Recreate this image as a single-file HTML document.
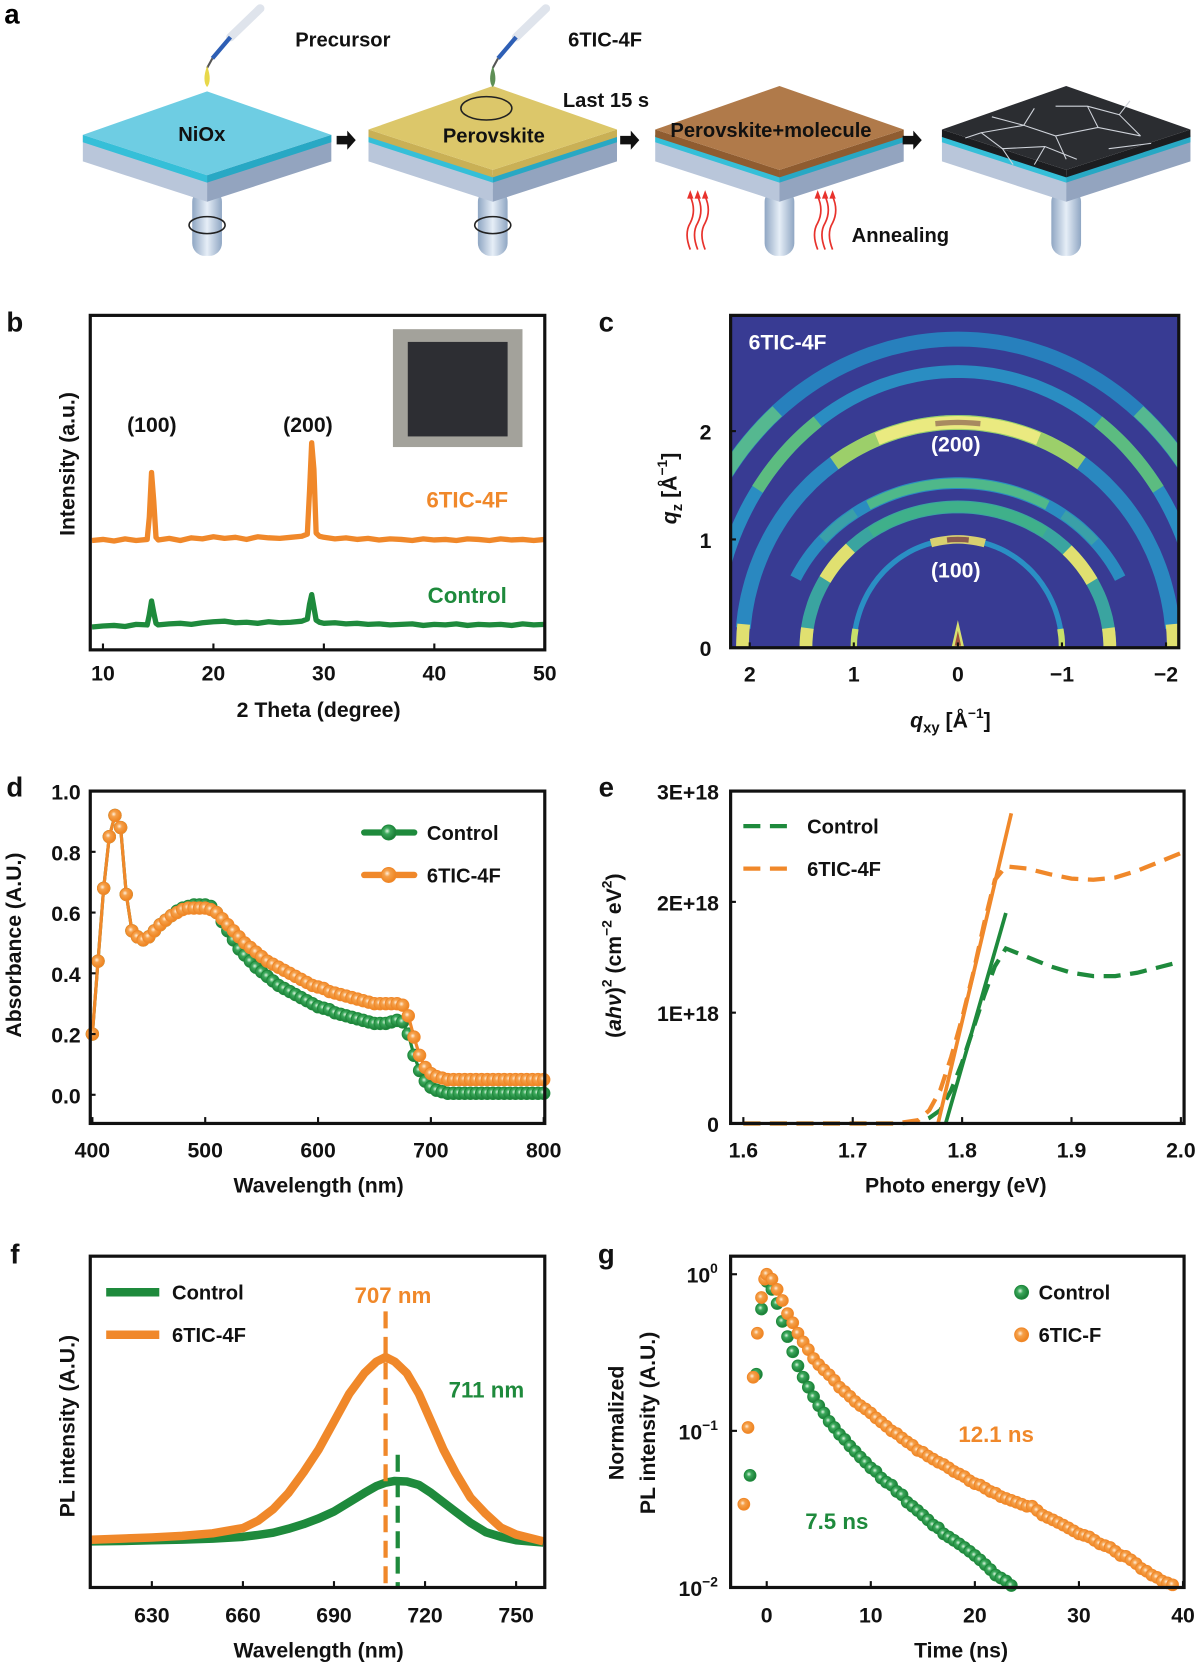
<!DOCTYPE html>
<html><head><meta charset="utf-8"><style>
html,body{margin:0;padding:0;background:#fff;}
svg{display:block;font-family:"Liberation Sans",Arial,sans-serif;font-weight:bold;}
</style></head><body>
<svg id="fig" width="1200" height="1665" viewBox="0 0 1130 1568" preserveAspectRatio="none" xmlns="http://www.w3.org/2000/svg">
<defs>
<radialGradient id="gG" cx="0.4" cy="0.4" r="0.6"><stop offset="0" stop-color="#dff5e2"/><stop offset="0.35" stop-color="#3aa85a"/><stop offset="1" stop-color="#1a7a36"/></radialGradient>
<radialGradient id="gO" cx="0.4" cy="0.4" r="0.6"><stop offset="0" stop-color="#fff0dd"/><stop offset="0.35" stop-color="#f5a04a"/><stop offset="1" stop-color="#ee8420"/></radialGradient>
<linearGradient id="stem" x1="0" x2="1"><stop offset="0" stop-color="#8fa6c3"/><stop offset="0.5" stop-color="#e6eef7"/><stop offset="1" stop-color="#8fa6c3"/></linearGradient>
<clipPath id="clipC"><rect x="688" y="297" width="422" height="313"/></clipPath>
</defs>

<g id="panelA"></g>
<text x="4" y="22" font-size="26">a</text>

<g id="panelB"></g>
<g id="panelC"></g>
<g id="panelD"></g>
<g id="panelE"></g>
<g id="panelF"></g>
<g id="panelG"></g>
</svg>
<script>
// ---------------- Data ----------------
const xrdAngles = [9,10,11,12,13,14,14.2,14.4,14.6,14.8,15,16,17,18,19,20,21,22,23,24,25,26,27,28,28.5,28.7,28.9,29.1,29.3,29.6,30,31,32,33,34,35,36,37,38,39,40,41,42,43,44,45,46,47,48,49,50];
const xrd6TIC = [1030,1040,1025,1045,1030,1040,1250,1670,1400,1060,1035,1050,1030,1055,1045,1065,1050,1060,1040,1065,1055,1050,1060,1070,1090,1500,1950,1700,1100,1070,1060,1045,1055,1040,1050,1035,1045,1040,1030,1045,1035,1040,1030,1045,1040,1030,1045,1035,1040,1030,1040];
const xrdControl = [215,225,230,220,240,235,330,460,350,250,235,245,250,240,255,265,270,255,260,250,265,255,260,270,290,430,520,400,280,260,250,255,245,250,240,245,235,240,245,230,240,235,245,230,240,235,240,230,245,235,240];
const xrdTicks = [10,20,30,40,50];
const absWl = []; for (let w=400; w<=800; w+=5) absWl.push(w);
const abs6TIC = [.20,.44,.68,.85,.92,.88,.66,.54,.52,.51,.52,.54,.56,.575,.59,.60,.61,.615,.615,.615,.615,.61,.60,.58,.56,.54,.52,.50,.485,.47,.455,.44,.43,.42,.41,.40,.39,.38,.37,.36,.355,.35,.34,.335,.33,.325,.32,.315,.31,.305,.30,.30,.30,.30,.30,.295,.26,.19,.13,.09,.07,.06,.055,.05,.05,.05,.05,.05,.05,.05,.05,.05,.05,.05,.05,.05,.05,.05,.05,.05,.05];
const absControl = [.20,.44,.68,.85,.92,.88,.66,.54,.52,.51,.52,.54,.56,.575,.59,.605,.615,.62,.625,.625,.625,.62,.60,.57,.54,.51,.48,.46,.44,.42,.405,.39,.375,.36,.35,.34,.33,.32,.31,.30,.29,.285,.28,.27,.265,.26,.255,.25,.245,.24,.235,.235,.235,.24,.245,.24,.20,.13,.08,.045,.025,.015,.01,.005,.005,.005,.005,.005,.005,.005,.005,.005,.005,.005,.005,.005,.005,.005,.005,.005,.005];
const absXTicks = [400,500,600,700,800];
const absYTicks = [0,0.2,0.4,0.6,0.8,1.0];
const absYLabels = ["0.0","0.2","0.4","0.6","0.8","1.0"];
const taucE = [1.60,1.65,1.70,1.74,1.76,1.77,1.78,1.79,1.80,1.81,1.82,1.83,1.84,1.86,1.88,1.90,1.92,1.94,1.96,1.98,2.00];
const taucControl = [0,0,0,0,0.01,0.05,0.12,0.3,0.55,0.85,1.15,1.42,1.58,1.5,1.42,1.36,1.33,1.33,1.36,1.41,1.46];
const tauc6TIC = [0,0,0,0,0.03,0.12,0.3,0.6,0.95,1.35,1.8,2.2,2.32,2.3,2.25,2.21,2.2,2.22,2.28,2.36,2.44];
const fitControlE = [1.785,1.84], fitControlV = [0,1.9];
const fit6TICE = [1.778,1.845], fit6TICV = [0,2.8];
const taucXTicks = [1.6,1.7,1.8,1.9,2.0];
const taucYTicks = [0,1,2,3];
const taucYLabels = ["0","1E+18","2E+18","3E+18"];
const plWl = [610,620,630,640,650,660,665,670,675,680,685,690,695,700,704,707,710,714,718,722,726,730,735,740,745,750,759];
const pl6TIC = [0.207,0.212,0.217,0.224,0.235,0.258,0.29,0.34,0.41,0.5,0.6,0.72,0.84,0.93,0.98,1.0,0.98,0.93,0.84,0.72,0.6,0.5,0.39,0.32,0.26,0.23,0.2];
const plControl = [0.2,0.202,0.205,0.208,0.212,0.22,0.228,0.238,0.255,0.275,0.3,0.33,0.37,0.41,0.44,0.455,0.462,0.46,0.445,0.41,0.37,0.33,0.28,0.24,0.22,0.205,0.195];
const plPeak6TIC = 707, plPeakControl = 711;
const plXTicks = [630,660,690,720,750];
// g: TRPL (rise points then decay every 0.5 ns)
const trplRiseT6TIC = [-2.2,-1.8,-1.3,-0.9,-0.5,-0.2];
const trplRise6TIC = [0.034,0.105,0.22,0.42,0.71,0.93];
const trplDecay6TIC = [1.0,.93,.8,.68,.56,.49,.42,.37,.33,.29,.265,.245,.228,.21,.19,.178,.166,.154,.145,.138,.13,.121,.114,.107,.1,.096,.09,.085,.081,.075,.073,.069,.066,.063,.061,.058,.055,.053,.051,.048,.046,.045,.043,.041,.04,.038,.037,.036,.035,.034,.033,.033,.031,.029,.028,.027,.026,.025,.024,.023,.022,.0215,.021,.02,.019,.0185,.018,.017,.016,.0158,.015,.0142,.0132,.0127,.012,.0116,.011,.0107,.0104];
const trplRiseTControl = [-1.6,-1.0,-0.5];
const trplRiseControl = [0.052,0.23,0.6];
const trplDecayControl = [.9,.8,.65,.5,.4,.32,.26,.22,.19,.165,.145,.13,.115,.105,.095,.088,.08,.074,.068,.063,.058,.055,.05,.047,.045,.041,.039,.035,.033,.031,.029,.027,.025,.024,.022,.021,.02,.019,.018,.017,.016,.015,.014,.013,.012,.0115,.011,.0103];
const trplXTicks = [0,10,20,30,40];
// c: ring radii (x radius, z radius in Å^-1)
const ringRx = [1.0,1.46,1.72,2.07,2.35,2.7];
const ringRz = [1.0,1.3,1.52,2.08,2.55,2.85];

// ---------------- Helpers ----------------
const NS = "http://www.w3.org/2000/svg";
function mk(parent, tag, attrs, text){
  const el = document.createElementNS(NS, tag);
  for (const k in attrs) el.setAttribute(k, attrs[k]);
  if (text !== undefined) el.textContent = text;
  parent.appendChild(el); return el;
}
function lin(d0,d1,r0,r1){ return v => r0 + (v-d0)*(r1-r0)/(d1-d0); }
const GREEN="#1e8a3c", ORANGE="#f0882a";
function frame(g, x, y, w, h){
  const r = mk(g,'rect',{x:x,y:y,width:w,height:h,fill:'none',stroke:'#111','stroke-width':3});
  
  
}
function txt(g, x, y, s, opts){
  return mk(g,'text',Object.assign({x:x,y:y,'font-size':20,'text-anchor':'middle',fill:'#111'},opts||{}), s);
}
function polyPath(xs, ys, sx, sy){
  return xs.map((v,i)=>(i?'L':'M')+sx(v).toFixed(1)+','+sy(ys[i]).toFixed(1)).join(' ');
}

// ---------------- Panel a ----------------
(function(){
  const g = document.getElementById('panelA');
  const centers = [195,464,734,1004];
  const tops = ['#6ecde3','#dcc76a','#b07a4a','#2b2d31'];
  const sides = ['#56b8d2','#c9b055','#8f5c30','#1c1d20'];
  centers.forEach((cx,i)=>{
    const s = mk(g,'g',{});
    
    
    mk(s,'rect',{x:cx-14,y:178,width:28,height:63,rx:12,fill:'url(#stem)'});
    mk(s,'polygon',{points:`${cx-117},127 ${cx},165 ${cx},190 ${cx-117},152`,fill:'#b9c6da'});
    mk(s,'polygon',{points:`${cx+117},127 ${cx},165 ${cx},190 ${cx+117},152`,fill:'#93a4bf'});
    mk(s,'polygon',{points:`${cx-117},127 ${cx},165 ${cx},172 ${cx-117},134`,fill:'#35bfd8'});
    mk(s,'polygon',{points:`${cx+117},127 ${cx},165 ${cx},172 ${cx+117},134`,fill:'#28a8c4'});
    if (i>0){
      mk(s,'polygon',{points:`${cx-117},122 ${cx},160 ${cx},167 ${cx-117},129`,fill:sides[i]});
      mk(s,'polygon',{points:`${cx+117},122 ${cx},160 ${cx},167 ${cx+117},129`,fill:sides[i]});
    }
    const off = i>0 ? -5 : 0;
    mk(s,'polygon',{points:`${cx-117},${127+off} ${cx},${86+off} ${cx+117},${127+off} ${cx},${165+off}`,fill:tops[i]});
    if (i===3){
      const cr = ['M'+(cx-80)+',125 L'+(cx-40)+',118 L'+(cx-10)+',128 L'+(cx+30)+',120 L'+(cx+70)+',128',
        'M'+(cx-40)+',118 L'+(cx-30)+',102','M'+(cx-10)+',128 L'+(cx)+',150','M'+(cx+30)+',120 L'+(cx+20)+',100',
        'M'+(cx-60)+',140 L'+(cx-20)+',138 L'+(cx+10)+',150','M'+(cx+40)+',140 L'+(cx+80)+',135','M'+(cx+20)+',100 L'+(cx+50)+',108 L'+(cx+70)+',128',
        'M'+(cx-10)+',100 L'+(cx+20)+',100','M'+(cx-95)+',130 L'+(cx-80)+',125 L'+(cx-60)+',140 L'+(cx-50)+',155',
        'M'+(cx-70)+',110 L'+(cx-40)+',118','M'+(cx+50)+',108 L'+(cx+60)+',95','M'+(cx-20)+',138 L'+(cx-30)+',155'];
      cr.forEach(d=>mk(s,'path',{d:d,stroke:'#cfd3da','stroke-width':1,fill:'none'}));
    }
    if (i<2){
      mk(s,'ellipse',{cx:cx,cy:212,rx:17,ry:8,fill:'none',stroke:'#222','stroke-width':1.5});
    }
  });
  mk(g,'ellipse',{cx:458,cy:102,rx:24,ry:11,fill:'none',stroke:'#222','stroke-width':1.5});
  [325,592,858].forEach((x,i)=>{
    const a = mk(g,'polygon',{points:`${x-8},128 ${x+2},128 ${x+2},123 ${x+10},132 ${x+2},141 ${x+2},136 ${x-8},136`,fill:'#111'});
    
    
  });
  [[195,'#e8d84a'],[464,'#5e8f55']].forEach(([cx,c],i)=>{
    const p = mk(g,'g',{});
    
    
    mk(p,'line',{x1:cx+50,y1:8,x2:cx+22,y2:35,stroke:'#dfe4ec','stroke-width':8,'stroke-linecap':'round'});
    mk(p,'line',{x1:cx+22,y1:35,x2:cx+5,y2:55,stroke:'#2e5fb5','stroke-width':4});
    mk(p,'line',{x1:cx+5,y1:55,x2:cx,y2:64,stroke:'#555','stroke-width':2});
    mk(p,'path',{d:`M${cx},62 Q${cx-5},76 ${cx},82 Q${cx+5},76 ${cx},62 Z`,fill:c});
  });
  [[650,185],[770,185]].forEach(([x,y])=>{
    for (let k=0;k<3;k++){
      const xx = x + k*7;
      mk(g,'path',{d:`M${xx},${y+50} q-6,-15 0,-25 q6,-12 0,-25`,fill:'none',stroke:'#e8322c','stroke-width':1.6});
      mk(g,'polygon',{points:`${xx-3},${y+2} ${xx+3},${y+2} ${xx},${y-6}`,fill:'#e8322c'});
    }
  });
  txt(g,278,44,'Precursor',{'text-anchor':'start','font-size':19});
  txt(g,535,44,'6TIC-4F',{'text-anchor':'start','font-size':19});
  txt(g,530,101,'Last 15 s',{'text-anchor':'start','font-size':19});
  txt(g,190,133,'NiOx',{'font-size':19});
  txt(g,465,134,'Perovskite',{'font-size':19});
  txt(g,726,129,'Perovskite+molecule',{'font-size':19});
  txt(g,802,228,'Annealing',{'text-anchor':'start','font-size':19});
})();

// ---------------- Panel b ----------------
(function(){
  const g = document.getElementById('panelB');
  const L=85,R=513,T=297,B=612;
  const sx = lin(8.85,50,L,R), sy = lin(0,3150,B,T);
  txt(g,14,312,'b',{'font-size':26});
  const inset = mk(g,'rect',{x:370,y:310,width:122,height:111,fill:'#a3a29b'});
  
  
  mk(g,'rect',{x:384,y:322,width:94,height:89,fill:'#2d2e33'});
  const po = mk(g,'path',{d:polyPath(xrdAngles,xrd6TIC,sx,sy),fill:'none',stroke:ORANGE,'stroke-width':5,'stroke-linejoin':'round'});
  
  
  const pc = mk(g,'path',{d:polyPath(xrdAngles,xrdControl,sx,sy),fill:'none',stroke:GREEN,'stroke-width':5,'stroke-linejoin':'round'});
  
  
  frame(g,L,T,R-L,B-T);
  xrdTicks.forEach(t=>{
    mk(g,'line',{x1:sx(t),y1:B,x2:sx(t),y2:B-6,stroke:'#111','stroke-width':2});
    txt(g,sx(t),641,String(t));
  });
  txt(g,300,675,'2 Theta (degree)');
  txt(g,0,0,'Intensity (a.u.)',{transform:'translate(70,437) rotate(-90)'});
  txt(g,143,407,'(100)');
  txt(g,290,407,'(200)');
  txt(g,440,478,'6TIC-4F',{fill:ORANGE,'font-size':21});
  txt(g,440,568,'Control',{fill:GREEN,'font-size':21});
})();

// ---------------- Panel c ----------------
(function(){
  const g = document.getElementById('panelC');
  const L=688,R=1110,T=297,B=610;
  const sx = lin(0,-1,902,1000), sy = lin(0,1,610,508);
  txt(g,571,312,'c',{'font-size':26});
  const bg = mk(g,'rect',{x:L,y:T,width:R-L,height:B-T,fill:'#383b93'});
  
  
  const cg = mk(g,'g',{'clip-path':'url(#clipC)'});
  function arc(i,a1,a2,col,w){
    const pts=[];
    for(let a=a1;a<=a2+0.01;a+=2){const rad=a*Math.PI/180;pts.push([sx(-ringRx[i]*Math.cos(rad)),sy(ringRz[i]*Math.sin(rad))]);}
    const p = mk(cg,'path',{d:pts.map((p,k)=>(k?'L':'M')+p[0].toFixed(1)+','+p[1].toFixed(1)).join(' '),fill:'none',stroke:col,'stroke-width':w});
    
    
  }
  const specs = [
    [0,[[0,180,'#2a8fc4',5],[0,10,'#c8e06a',6],[170,180,'#c8e06a',6],[75,105,'#d8d070',8],[84,96,'#8a5a50',5]]],
    [1,[[0,180,'#3aa4a0',12],[28,45,'#e0e070',12],[135,152,'#e0e070',12],[0,8,'#e0e070',12],[172,180,'#e0e070',12],[55,125,'#3fb08a',10]]],
    [2,[[25,155,'#2a8cc0',11],[60,120,'#4fb88a',9],[40,55,'#3aa0a8',9],[125,140,'#3aa0a8',9]]],
    [3,[[5,175,'#2a88c0',14],[55,125,'#9ccf6a',14],[68,112,'#eaea80',12],[84,96,'#a88a60',5],[0,6,'#e0e070',12],[174,180,'#e0e070',12]]],
    [4,[[8,172,'#2a8dc2',12],[35,55,'#5cbc80',12],[125,145,'#5cbc80',12]]],
    [5,[[0,180,'#2780bd',14],[30,50,'#55b890',13],[130,150,'#55b890',13]]]
  ];
  specs.forEach(([i,arr])=>arr.forEach(([a1,a2,c,w])=>arc(i,a1,a2,c,w)));
  mk(cg,'path',{d:'M896,610 L902,584 L908,610 Z',fill:'#d8e070'});
  mk(cg,'path',{d:'M899,608 L902,594 L905,608 Z',fill:'#a05040'});
  frame(g,L,T,R-L,B-T);
  [2,1,0,-1,-2].forEach(t=>{
    mk(g,'line',{x1:sx(t),y1:B,x2:sx(t),y2:B-5,stroke:'#111','stroke-width':2});
    txt(g,sx(t),642,String(t).replace('-','\u2212'));
  });
  [0,1,2].forEach(t=>{
    mk(g,'line',{x1:L,y1:sy(t),x2:L+5,y2:sy(t),stroke:'#111','stroke-width':2});
    txt(g,670,sy(t)+8,String(t),{'text-anchor':'end'});
  });
  const xt = txt(g,895,685,'');
  
  xt.innerHTML = '<tspan font-style="italic">q</tspan><tspan font-size="14" dy="5">xy</tspan><tspan dy="-5"> [Å</tspan><tspan font-size="13" dy="-9">\u22121</tspan><tspan dy="9">]</tspan>';
  const yt = txt(g,0,0,'',{transform:'translate(637,460) rotate(-90)'});
  
  yt.innerHTML = '<tspan font-style="italic">q</tspan><tspan font-size="14" dy="5">z</tspan><tspan dy="-5"> [Å</tspan><tspan font-size="13" dy="-9">\u22121</tspan><tspan dy="9">]</tspan>';
  txt(g,705,329,'6TIC-4F',{'text-anchor':'start',fill:'#fff'});
  txt(g,900,425,'(200)',{fill:'#fff'});
  txt(g,900,544,'(100)',{fill:'#fff'});
})();

// ---------------- Panel d ----------------
(function(){
  const g = document.getElementById('panelD');
  const L=85,R=513,T=745,B=1058;
  const sx = lin(400,800,87,512), sy = lin(0,1,1031,745);
  txt(g,14,750,'d',{'font-size':26});
  [[absControl,GREEN,'url(#gG)','control'],[abs6TIC,ORANGE,'url(#gO)','6tic-4f']].forEach(([vals,c,gr,nm])=>{
    const p = mk(g,'path',{d:polyPath(absWl,vals,sx,sy),fill:'none',stroke:c,'stroke-width':3});
    
    
    absWl.forEach((w,i)=>{
      const m = mk(g,'circle',{cx:sx(w),cy:sy(vals[i]),r:5.8,fill:gr,stroke:c,'stroke-width':1});
      
      
    });
  });
  frame(g,L,T,R-L,B-T);
  absXTicks.forEach(t=>{
    mk(g,'line',{x1:sx(t),y1:B,x2:sx(t),y2:B-6,stroke:'#111','stroke-width':2});
    txt(g,sx(t),1090,String(t));
  });
  absYTicks.forEach((t,i)=>{
    mk(g,'line',{x1:L,y1:sy(t),x2:L+5,y2:sy(t),stroke:'#111','stroke-width':2});
    txt(g,76,sy(t)+8,absYLabels[i],{'text-anchor':'end'});
  });
  txt(g,300,1123,'Wavelength (nm)');
  txt(g,0,0,'Absorbance (A.U.)',{transform:'translate(20,890) rotate(-90)'});
  [[784,GREEN,'url(#gG)','Control'],[824,ORANGE,'url(#gO)','6TIC-4F']].forEach(([y,c,gr,lab])=>{
    const lg = mk(g,'g',{});
    
    
    mk(lg,'line',{x1:343,y1:y,x2:390,y2:y,stroke:c,'stroke-width':6,'stroke-linecap':'round'});
    mk(lg,'circle',{cx:366,cy:y,r:7,fill:gr,stroke:c});
    txt(lg,402,y+7,lab,{'text-anchor':'start','font-size':19});
  });
})();

// ---------------- Panel e ----------------
(function(){
  const g = document.getElementById('panelE');
  const L=688,R=1115,T=745,B=1058;
  const sx = lin(1.6,2.0,700,1112), sy = lin(0,3,1058,745);
  txt(g,571,750,'e',{'font-size':26});
  [[taucControl,GREEN,'control'],[tauc6TIC,ORANGE,'6tic-4f']].forEach(([v,c,nm])=>{
    const p = mk(g,'path',{d:polyPath(taucE,v,sx,sy),fill:'none',stroke:c,'stroke-width':4,'stroke-dasharray':'16,9'});
    
    
  });
  [[fitControlE,fitControlV,GREEN,'control'],[fit6TICE,fit6TICV,ORANGE,'6tic-4f']].forEach(([e,v,c,nm])=>{
    const p = mk(g,'path',{d:polyPath(e,v,sx,sy),fill:'none',stroke:c,'stroke-width':3.5});
    
    
  });
  frame(g,L,T,R-L,B-T);
  taucXTicks.forEach(t=>{
    mk(g,'line',{x1:sx(t),y1:B,x2:sx(t),y2:B-6,stroke:'#111','stroke-width':2});
    txt(g,sx(t),1090,t.toFixed(1));
  });
  taucYTicks.forEach((t,i)=>{
    mk(g,'line',{x1:L,y1:sy(t),x2:L+5,y2:sy(t),stroke:'#111','stroke-width':2});
    txt(g,677,sy(t)+8,taucYLabels[i],{'text-anchor':'end'});
  });
  txt(g,900,1123,'Photo energy (eV)');
  const yt = txt(g,0,0,'',{transform:'translate(585,900) rotate(-90)'});
  
  yt.innerHTML = '(<tspan font-style="italic">ahν</tspan>)<tspan font-size="13" dy="-9">2</tspan><tspan dy="9"> (cm</tspan><tspan font-size="13" dy="-9">\u22122</tspan><tspan dy="9"> eV</tspan><tspan font-size="13" dy="-9">2</tspan><tspan dy="9">)</tspan>';
  [[778,GREEN,'Control'],[818,ORANGE,'6TIC-4F']].forEach(([y,c,lab])=>{
    const lg = mk(g,'g',{});
    
    
    mk(lg,'line',{x1:700,y1:y,x2:748,y2:y,stroke:c,'stroke-width':4,'stroke-dasharray':'16,9'});
    txt(lg,760,y+7,lab,{'text-anchor':'start','font-size':19});
  });
})();

// ---------------- Panel f ----------------
(function(){
  const g = document.getElementById('panelF');
  const L=85,R=513,T=1183,B=1495;
  const sx = lin(630,750,143,486), sy = lin(0,1,1495,1278);
  txt(g,14,1190,'f',{'font-size':26});
  [[plControl,GREEN,'control'],[pl6TIC,ORANGE,'6tic-4f']].forEach(([v,c,nm])=>{
    const p = mk(g,'path',{d:polyPath(plWl,v,sx,sy),fill:'none',stroke:c,'stroke-width':8,'stroke-linejoin':'round'});
    
    
  });
  const d1 = mk(g,'line',{x1:sx(plPeak6TIC),y1:1235,x2:sx(plPeak6TIC),y2:B,stroke:ORANGE,'stroke-width':4,'stroke-dasharray':'16,8'});
  
  
  const d2 = mk(g,'line',{x1:sx(plPeakControl),y1:1370,x2:sx(plPeakControl),y2:B,stroke:GREEN,'stroke-width':4,'stroke-dasharray':'16,8'});
  
  
  frame(g,L,T,R-L,B-T);
  plXTicks.forEach(t=>{
    mk(g,'line',{x1:sx(t),y1:B,x2:sx(t),y2:B-6,stroke:'#111','stroke-width':2});
    txt(g,sx(t),1528,String(t));
  });
  txt(g,300,1561,'Wavelength (nm)');
  txt(g,0,0,'PL intensity (A.U.)',{transform:'translate(70,1343) rotate(-90)'});
  txt(g,370,1227,plPeak6TIC+' nm',{fill:ORANGE,'font-size':21});
  txt(g,458,1316,plPeakControl+' nm',{fill:GREEN,'font-size':21});
  [[1217,GREEN,'Control'],[1257,ORANGE,'6TIC-4F']].forEach(([y,c,lab])=>{
    const lg = mk(g,'g',{});
    
    
    mk(lg,'line',{x1:100,y1:y,x2:150,y2:y,stroke:c,'stroke-width':8});
    txt(lg,162,y+7,lab,{'text-anchor':'start','font-size':19});
  });
})();

// ---------------- Panel g ----------------
(function(){
  const g = document.getElementById('panelG');
  const L=688,R=1115,T=1183,B=1495;
  const sx = lin(0,10,722,820);
  const ly = lin(0,-2,1200,1495);
  const sy = v => ly(Math.log10(v));
  txt(g,571,1190,'g',{'font-size':26});
  const cg = mk(g,'g',{});
  const t6 = trplRiseT6TIC.concat(trplDecay6TIC.map((_,i)=>i*0.5));
  const v6 = trplRise6TIC.concat(trplDecay6TIC);
  const tc = trplRiseTControl.concat(trplDecayControl.map((_,i)=>i*0.5));
  const vc = trplRiseControl.concat(trplDecayControl);
  [[tc,vc,GREEN,'url(#gG)','control'],[t6,v6,ORANGE,'url(#gO)','6tic-4f']].forEach(([ts,vs,c,gr,nm])=>{
    ts.forEach((t,i)=>{
      if (sy(vs[i])>B+2) return;
      const m = mk(cg,'circle',{cx:sx(t),cy:sy(vs[i]),r:5.5,fill:gr,stroke:c,'stroke-width':1});
      
      
    });
  });
  frame(g,L,T,R-L,B-T);
  trplXTicks.forEach(t=>{
    mk(g,'line',{x1:sx(t),y1:B,x2:sx(t),y2:B-6,stroke:'#111','stroke-width':2});
    txt(g,sx(t),1528,String(t));
  });
  [0,-1,-2].forEach(e=>{
    mk(g,'line',{x1:L,y1:ly(e),x2:L+6,y2:ly(e),stroke:'#111','stroke-width':2});
    const t = txt(g,676,ly(e)+8,'',{'text-anchor':'end'});
    
    t.innerHTML = '10<tspan font-size="13" dy="-9">'+(e===0?'0':'\u2212'+(-e))+'</tspan>';
  });
  txt(g,905,1561,'Time (ns)');
  txt(g,0,0,'Normalized',{transform:'translate(587,1340) rotate(-90)'});
  txt(g,0,0,'PL intensity (A.U.)',{transform:'translate(617,1340) rotate(-90)'});
  txt(g,938,1358,'12.1 ns',{fill:ORANGE,'font-size':21});
  txt(g,788,1440,'7.5 ns',{fill:GREEN,'font-size':21});
  [[1217,GREEN,'url(#gG)','Control'],[1257,ORANGE,'url(#gO)','6TIC-F']].forEach(([y,c,gr,lab])=>{
    const lg = mk(g,'g',{});
    
    
    mk(lg,'circle',{cx:962,cy:y,r:6.5,fill:gr,stroke:c});
    txt(lg,978,y+7,lab,{'text-anchor':'start','font-size':19});
  });
})();
</script>
</body></html>
